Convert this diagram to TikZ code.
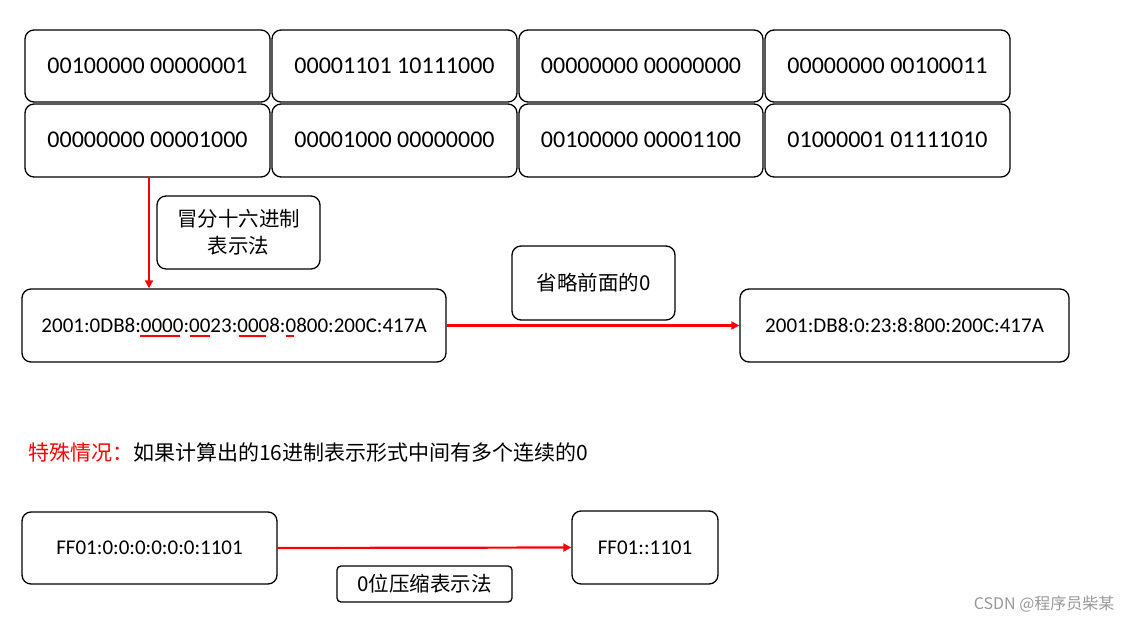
\documentclass[tikz,border=0pt]{standalone}
\usepackage{fontspec}
\setmainfont{Carlito}
\newfontfamily\cjk{Noto Sans CJK SC}
\newfontfamily\lat{Carlito}
\usetikzlibrary{arrows.meta}
\begin{document}
\begin{tikzpicture}[x=1pt,y=-1pt,
  bx/.style={draw=black,line width=1.3pt,rounded corners=9pt},
  arr/.style={red,line width=2.2pt,-{Triangle[length=8pt,width=8pt]}},
  ul/.style={red,line width=2.4pt},
  big/.style={font=\lat\fontsize{24}{28}\selectfont},
  mid/.style={font=\lat\fontsize{21}{24}\selectfont},
  zh/.style={font=\cjk\fontsize{20.5}{27}\selectfont}]
\useasboundingbox[fill=white] (0,0) rectangle (1131,623);
\foreach \x/\w [count=\i] in {25/245,272/245,519/244,765/245}{
  \draw[bx] (\x,30) rectangle ++(\w,72);
  \draw[bx] (\x,104) rectangle ++(\w,73);
}
\node[big] (t1) at (147.5,66) {00100000 00000001};
\node[big] (t2) at (394.5,66) {00001101 10111000};
\node[big] (t3) at (641,66) {00000000 00000000};
\node[big] (t4) at (887.5,66) {00000000 00100011};
\node[big] (b1) at (147.5,140) {00000000 00001000};
\node[big] (b2) at (394.5,140) {00001000 00000000};
\node[big] (b3) at (641,140) {00100000 00001100};
\node[big] (b4) at (887.5,140) {01000001 01111010};
\coordinate (top) at (149,177);
\node[bx,minimum width=163pt,minimum height=73pt,align=center,zh] (lab1) at (238.5,232.5) {冒分十六进制\\表示法};
\node[bx,minimum width=424pt,minimum height=73pt,mid] (A) at (234,325.5) {2001:0DB8:0000:0023:0008:0800:200C:417A};
\draw[ul] (140,336) -- (180,336); \draw[ul] (190,336) -- (210,336);
\draw[ul] (239,336) -- (266,336); \draw[ul] (286,336) -- (294,336);
\node[bx,minimum width=329pt,minimum height=73pt,mid] (B) at (904.5,325.5) {2001:DB8:0:23:8:800:200C:417A};
\node[bx,minimum width=163pt,minimum height=74pt,zh] (lab2) at (593.5,283) {省略前面的0};
\draw[arr] (top) -- (A.north -| top);
\draw[arr] (A.east) -- (B.west);
\node[anchor=west,font=\cjk\fontsize{21}{27}\selectfont,inner sep=0] (sp) at (28,453) {\textcolor{red}{特殊情况：}如果计算出的16进制表示形式中间有多个连续的0};
\node[bx,minimum width=255pt,minimum height=72pt,mid] (C) at (149.5,548) {FF01:0:0:0:0:0:0:1101};
\node[bx,minimum width=146pt,minimum height=73pt,mid] (D) at (645,547.5) {FF01::1101};
\draw[arr] (C.east) -- (D.west);
\node[draw,line width=1.3pt,rounded corners=4pt,minimum width=175pt,minimum height=36pt,zh] (lab3) at (424.5,584) {0位压缩表示法};
\node[anchor=east,text=gray!80,font=\cjk\fontsize{16}{20}\selectfont] (wm) at (1118,604) {CSDN @程序员柴某};
\end{tikzpicture}
\end{document}
